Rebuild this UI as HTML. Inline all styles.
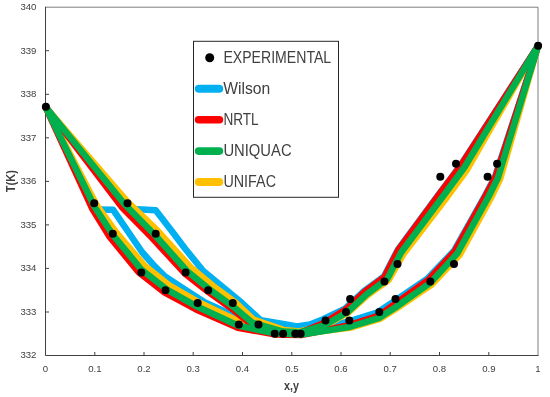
<!DOCTYPE html>
<html><head><meta charset="utf-8"><title>T-x,y diagram</title>
<style>html,body{margin:0;padding:0;background:#fff}</style></head>
<body>
<svg width="550" height="397" viewBox="0 0 550 397" style="display:block;font-family:'Liberation Sans',sans-serif">
<rect width="550" height="397" fill="#fff"/>
<defs><filter id="soft" x="-2%" y="-2%" width="104%" height="104%"><feGaussianBlur stdDeviation="0.45"/></filter></defs>
<g filter="url(#soft)">
<path d="M45.5 7.2H538V355.5" fill="none" stroke="#7f7f7f" stroke-width="1"/>
<path d="M45.5 6.7V355.5H538.5" fill="none" stroke="#404040" stroke-width="1"/>
<path d="M46 50.7h3 M46 94.3h3 M46 137.8h3 M46 181.4h3 M46 224.9h3 M46 268.4h3 M46 312.0h3 M94.8 355v-3 M144.0 355v-3 M193.2 355v-3 M242.5 355v-3 M291.8 355v-3 M341.0 355v-3 M390.2 355v-3 M439.5 355v-3 M488.8 355v-3" stroke="#404040" stroke-width="1" fill="none"/>
<g font-size="9.6px" fill="#404040" text-anchor="end">
<text x="36.4" y="10.1">340</text>
<text x="36.4" y="53.6">339</text>
<text x="36.4" y="97.2">338</text>
<text x="36.4" y="140.7">337</text>
<text x="36.4" y="184.3">336</text>
<text x="36.4" y="227.8">335</text>
<text x="36.4" y="271.3">334</text>
<text x="36.4" y="314.9">333</text>
<text x="36.4" y="358.4">332</text>
</g>
<g font-size="9.6px" fill="#404040" text-anchor="middle">
<text x="45.5" y="371.7">0</text>
<text x="94.8" y="371.7">0.1</text>
<text x="144.0" y="371.7">0.2</text>
<text x="193.2" y="371.7">0.3</text>
<text x="242.5" y="371.7">0.4</text>
<text x="291.8" y="371.7">0.5</text>
<text x="341.0" y="371.7">0.6</text>
<text x="390.2" y="371.7">0.7</text>
<text x="439.5" y="371.7">0.8</text>
<text x="488.8" y="371.7">0.9</text>
<text x="538.0" y="371.7">1</text>
</g>
<text transform="translate(15.1,181.2) rotate(-90) scale(0.92,1)" font-size="12px" font-weight="bold" fill="#404040" text-anchor="middle">T(K)</text>
<text transform="translate(291.6,389.8) scale(0.9,1)" font-size="12px" font-weight="bold" fill="#404040" text-anchor="middle">x,y</text>
<polyline points="97.0,209.5 113.0,209.7 142.0,252.0 153.5,265.0 165.1,276.5 181.0,287.0 205.0,302.5 223.3,310.8 250.0,322.0 300.8,331.1 348.3,321.6 376.9,312.7 392.8,302.2 427.3,278.8 454.0,250.8 485.2,195.3 495.0,176.8 538.1,45.8" fill="none" stroke="#00B0F0" stroke-width="6.5" stroke-linejoin="round" stroke-linecap="round"/>
<polyline points="128.0,208.7 155.7,210.2 171.0,230.0 185.2,248.8 203.3,271.0 240.0,301.2 260.6,320.2 270.0,321.7 283.0,324.0 297.0,326.5 310.0,324.5 323.1,319.2 345.0,308.6 363.9,291.2 384.1,276.3 397.7,249.9 440.3,192.3 460.7,165.1 538.1,45.8" fill="none" stroke="#00B0F0" stroke-width="6.5" stroke-linejoin="round" stroke-linecap="round"/>
<polyline points="45.5,106.8 97.0,205.7 116.2,232.3 144.8,265.9 169.2,285.3 199.6,302.8 239.8,322.0 275.0,330.7 301.0,333.8 349.7,327.8 379.8,318.9 396.8,308.2 432.1,284.3 459.7,254.9 490.8,198.3 500.2,178.9 538.1,45.8" fill="none" stroke="#FFC000" stroke-width="6.5" stroke-linejoin="round" stroke-linecap="round"/>
<polyline points="45.5,106.8 127.4,201.7 158.0,231.1 190.6,267.2 213.2,286.0 235.6,302.7 253.5,319.6 283.5,329.9 299.9,331.5 325.8,325.5 348.1,312.8 367.4,295.3 388.6,280.2 403.7,253.7 447.0,197.2 467.2,169.5 538.1,45.8" fill="none" stroke="#FFC000" stroke-width="6.5" stroke-linejoin="round" stroke-linecap="round"/>
<polyline points="45.5,106.8 92.1,208.5 109.7,237.0 138.6,272.2 164.4,292.5 196.1,309.5 237.9,327.7 274.5,334.4 301.0,335.1 349.1,325.2 378.4,315.8 394.3,304.5 428.3,280.0 454.7,251.4 485.7,195.6 495.5,177.0 538.1,45.8" fill="none" stroke="#FF0000" stroke-width="6.5" stroke-linejoin="round" stroke-linecap="round"/>
<polyline points="45.5,106.8 121.6,206.9 151.5,237.2 184.7,273.4 208.6,292.1 231.3,308.3 251.0,324.3 283.0,332.7 300.1,332.8 324.6,322.8 345.7,309.6 364.5,291.9 384.6,276.8 398.1,250.2 440.6,192.5 461.0,165.3 538.1,45.8" fill="none" stroke="#FF0000" stroke-width="6.5" stroke-linejoin="round" stroke-linecap="round"/>
<polyline points="45.5,106.8 94.7,207.0 112.8,234.8 141.3,269.5 166.5,289.3 197.5,306.8 238.5,325.8 274.7,333.2 301.0,334.6 349.5,327.0 379.3,317.8 396.0,307.0 430.6,282.6 457.4,253.3 488.4,197.0 497.9,178.0 538.1,45.8" fill="none" stroke="#00B050" stroke-width="6.5" stroke-linejoin="round" stroke-linecap="round"/>
<polyline points="45.5,106.8 124.6,204.2 154.4,234.5 187.0,271.0 210.2,290.0 232.8,306.3 252.0,322.5 283.2,331.5 300.0,332.3 325.5,324.8 347.5,312.0 366.6,294.4 387.2,279.0 401.3,252.2 444.0,195.0 464.3,167.5 538.1,45.8" fill="none" stroke="#00B050" stroke-width="6.5" stroke-linejoin="round" stroke-linecap="round"/>
<circle cx="45.9" cy="106.7" r="4" fill="#000"/>
<circle cx="94.2" cy="203.2" r="4" fill="#000"/>
<circle cx="112.8" cy="233.7" r="4" fill="#000"/>
<circle cx="141.3" cy="272.4" r="4" fill="#000"/>
<circle cx="165.5" cy="290.2" r="4" fill="#000"/>
<circle cx="197.7" cy="302.9" r="4" fill="#000"/>
<circle cx="238.8" cy="324.6" r="4" fill="#000"/>
<circle cx="274.7" cy="333.8" r="4" fill="#000"/>
<circle cx="300.7" cy="333.8" r="4" fill="#000"/>
<circle cx="349.3" cy="320.5" r="4" fill="#000"/>
<circle cx="379.3" cy="312.0" r="4" fill="#000"/>
<circle cx="395.5" cy="298.9" r="4" fill="#000"/>
<circle cx="430.3" cy="281.6" r="4" fill="#000"/>
<circle cx="454.0" cy="264.1" r="4" fill="#000"/>
<circle cx="487.6" cy="176.7" r="4" fill="#000"/>
<circle cx="497.1" cy="163.7" r="4" fill="#000"/>
<circle cx="538.1" cy="45.8" r="4" fill="#000"/>
<circle cx="127.5" cy="203.2" r="4" fill="#000"/>
<circle cx="155.7" cy="233.7" r="4" fill="#000"/>
<circle cx="185.6" cy="272.4" r="4" fill="#000"/>
<circle cx="208.2" cy="290.2" r="4" fill="#000"/>
<circle cx="232.8" cy="302.9" r="4" fill="#000"/>
<circle cx="258.5" cy="324.6" r="4" fill="#000"/>
<circle cx="283.1" cy="333.8" r="4" fill="#000"/>
<circle cx="295.3" cy="333.8" r="4" fill="#000"/>
<circle cx="325.5" cy="320.5" r="4" fill="#000"/>
<circle cx="346.0" cy="312.0" r="4" fill="#000"/>
<circle cx="350.1" cy="298.9" r="4" fill="#000"/>
<circle cx="384.4" cy="281.6" r="4" fill="#000"/>
<circle cx="397.5" cy="264.1" r="4" fill="#000"/>
<circle cx="440.3" cy="176.7" r="4" fill="#000"/>
<circle cx="456.0" cy="163.7" r="4" fill="#000"/>
<rect x="193.5" y="41.3" width="145" height="156" fill="#fff" stroke="#262626" stroke-width="1"/>
<circle cx="209.7" cy="57.7" r="4.5" fill="#000"/>
<line x1="198.90" x2="219.10" y1="88.75" y2="88.75" stroke="#00B0F0" stroke-width="8.2" stroke-linecap="round"/>
<line x1="198.55" x2="219.45" y1="119.8" y2="119.8" stroke="#FF0000" stroke-width="7.5" stroke-linecap="round"/>
<line x1="198.60" x2="219.40" y1="151.1" y2="151.1" stroke="#00B050" stroke-width="7.6" stroke-linecap="round"/>
<line x1="198.80" x2="219.20" y1="181.9" y2="181.9" stroke="#FFC000" stroke-width="8.0" stroke-linecap="round"/>
<text x="223.4" y="63.3" font-size="16.2px" fill="#404040" textLength="107.8" lengthAdjust="spacingAndGlyphs">EXPERIMENTAL</text>
<text x="223.2" y="93.8" font-size="16.2px" fill="#404040" textLength="47" lengthAdjust="spacingAndGlyphs">Wilson</text>
<text x="223.4" y="124.8" font-size="16.2px" fill="#404040" textLength="35.2" lengthAdjust="spacingAndGlyphs">NRTL</text>
<text x="223.4" y="156.3" font-size="16.2px" fill="#404040" textLength="68.2" lengthAdjust="spacingAndGlyphs">UNIQUAC</text>
<text x="223.4" y="187.4" font-size="16.2px" fill="#404040" textLength="52.6" lengthAdjust="spacingAndGlyphs">UNIFAC</text>
</g>
</svg>
</body></html>
